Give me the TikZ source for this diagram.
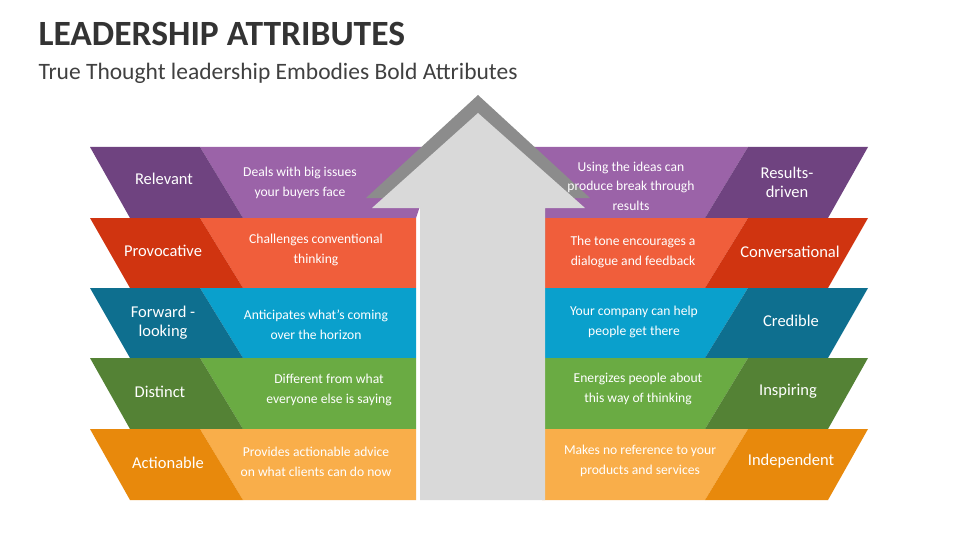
\documentclass[tikz,border=0pt]{standalone}
\usepackage{fontspec}
\setmainfont{Carlito}
\definecolor{pD}{HTML}{6F4380}\definecolor{pL}{HTML}{9B63A8}
\definecolor{rD}{HTML}{D03410}\definecolor{rL}{HTML}{F05E3B}
\definecolor{bD}{HTML}{0E6F8F}\definecolor{bL}{HTML}{0AA0CC}
\definecolor{gD}{HTML}{548235}\definecolor{gL}{HTML}{6AAB43}
\definecolor{oD}{HTML}{E8890C}\definecolor{oL}{HTML}{F9AE4A}
\begin{document}
\begin{tikzpicture}[x=1pt,y=-1pt,
  lab/.style={text=white,font=\fontsize{16.5}{19}\selectfont,align=center},
  desc/.style={text=white,font=\fontsize{13.6}{19.5}\selectfont,align=center}]
\useasboundingbox[fill=white] (0,0) rectangle (960,540);
\node[anchor=west,font=\bfseries\fontsize{35.5}{38}\selectfont,text=black!80] (title) at (35,34) {LEADERSHIP ATTRIBUTES};
\node[anchor=west,font=\fontsize{23.5}{26}\selectfont,text=black!75] (sub) at (35,73) {True Thought leadership Embodies Bold Attributes};
% rows
\foreach \t/\b/\D/\L/\w [count=\i] in {147/218/pD/pL/440, 218/288/rD/rL/416, 288/358/bD/bL/416, 358/429/gD/gL/416, 429/500/oD/oL/416}{
  \fill[\L] (200,\t) -- (\w,\t) -- (416,\b) -- (243,\b) -- cycle;
  \fill[\D] (90,\t) -- (200,\t) -- (243,\b) -- (130,\b) -- cycle;
  \pgfmathsetmacro\rw{958-\w}
  \fill[\L] (748,\t) -- (\rw,\t) -- (542,\b) -- (705,\b) -- cycle;
  \fill[\D] (868,\t) -- (748,\t) -- (705,\b) -- (828,\b) -- cycle;
}
% arrow
\fill[black!45] (478,95) -- (590,198) -- (545,198) -- (545,260) -- (420,260) -- (420,198) -- (366,198) -- cycle;
\fill[black!15] (478,113) -- (585,208) -- (545,208) -- (545,500) -- (420,500) -- (420,208) -- (372,208) -- cycle;
% labels
\node[lab] (l1) at (164,179) {Relevant};
\node[lab] (l2) at (163,251) {Provocative};
\node[lab] (l3) at (163,323) {Forward -\\looking};
\node[lab] (l4) at (160,392) {Distinct};
\node[lab] (l5) at (168,463) {Actionable};
\node[desc] (d1) at (300,183) {Deals with big issues\\your buyers face};
\node[desc] (d2) at (316,250) {Challenges conventional\\thinking};
\node[desc] (d3) at (316,325) {Anticipates what’s coming\\over the horizon};
\node[desc] (d4) at (329,390) {Different from what\\everyone else is saying};
\node[desc] (d5) at (316,462) {Provides actionable advice\\on what clients can do now};
\node[desc] (e1) at (631,186) {Using the ideas can\\produce break through\\results};
\node[desc] (e2) at (633,252) {The tone encourages a\\dialogue and feedback};
\node[desc] (e3) at (634,322) {Your company can help\\people get there};
\node[desc] (e4) at (638,389) {Energizes people about\\this way of thinking};
\node[desc] (e5) at (640,461) {Makes no reference to your\\products and services};
\node[lab] (r1) at (787,182) {Results-\\driven};
\node[lab] (r2) at (790,252) {Conversational};
\node[lab] (r3) at (791,321) {Credible};
\node[lab] (r4) at (788,391) {Inspiring};
\node[lab] (r5) at (791,461) {Independent};
\end{tikzpicture}
\end{document}
